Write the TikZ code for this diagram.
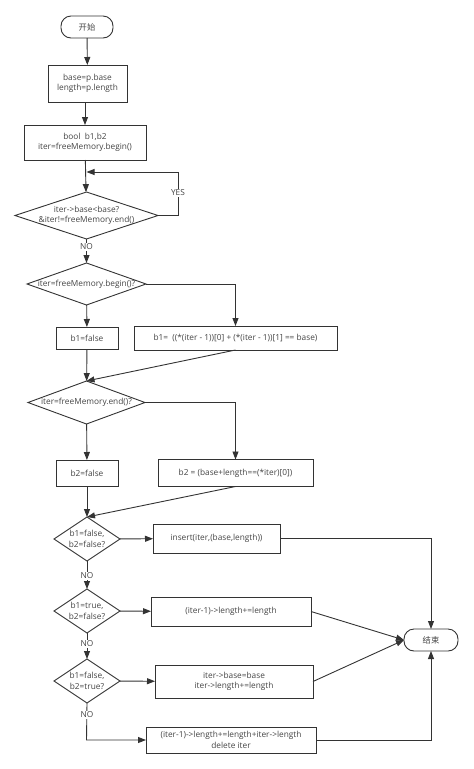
\documentclass[tikz,border=0pt]{standalone}
\usepackage{fontspec}
\setmainfont{Open Sans}
\newfontfamily\cjk{Noto Sans CJK SC}
\usetikzlibrary{arrows.meta,shapes.geometric}
\definecolor{ln}{HTML}{333333}
\definecolor{tx}{HTML}{444444}
\begin{document}
\begin{tikzpicture}[x=1pt,y=-1pt,
  every node/.style={font=\fontsize{8.3}{10.5}\selectfont, text=tx},
  box/.style={draw=ln, line width=0.9pt, rectangle, inner sep=0pt, outer sep=0pt, align=center},
  term/.style={draw=ln, line width=0.9pt, rectangle, rounded corners=10pt, inner sep=0pt, outer sep=0pt, minimum width=52pt, minimum height=22pt},
  dia/.style={draw=ln, line width=0.9pt, diamond, inner sep=0pt, outer sep=0pt},
  dtext/.style={align=center, inner sep=0pt},
  lab/.style={fill=white, inner sep=1pt},
  arr/.style={draw=ln, line width=0.9pt, -{Triangle[length=8pt,width=6pt]}},
  ln/.style={draw=ln, line width=0.9pt}]
\useasboundingbox (0,0) rectangle (474,769);
% nodes
\node[term] (start) at (87,27) {\cjk 开始};
\node[box, minimum width=79pt, minimum height=37pt] (init) at (87.5,83.5) {base=p.base\\length=p.length};
\node[box, minimum width=122pt, minimum height=35pt] (decl) at (85,142.5) {bool\ \ b1,b2\\iter=freeMemory.begin()};
\node[dia, minimum width=143pt, minimum height=47pt] (d1) at (86.5,215.5) {};
\node[dtext] (d1t) at (d1) {iter->base<base?\\\&iter!=freeMemory.end()};
\node[dia, minimum width=119pt, minimum height=42pt] (d2) at (86.5,284) {};
\node[dtext] (d2t) at (d2) {iter=freeMemory.begin()?};
\node[box, minimum width=62pt, minimum height=22pt] (b1f) at (87,338) {b1=false};
\node[box, minimum width=203pt, minimum height=24pt] (b1r) at (235.5,338) {b1=\ \ ((*(iter - 1))[0] + (*(iter - 1))[1] == base)};
\node[dia, minimum width=117pt, minimum height=43pt] (d3) at (86.5,402.5) {};
\node[dtext] (d3t) at (d3) {iter=freeMemory.end()?};
\node[box, minimum width=62pt, minimum height=26pt] (b2f) at (87,473) {b2=false};
\node[box, minimum width=155pt, minimum height=27pt] (b2r) at (235.5,473) {b2 = (base+length==(*iter)[0])};
\node[dia, minimum width=66pt, minimum height=44pt] (d4) at (87,539) {};
\node[dtext] (d4t) at (d4) {b1=false,\\b2=false?};
\node[box, minimum width=127pt, minimum height=29pt] (ins) at (216.5,538.5) {insert(iter,(base,length))};
\node[dia, minimum width=66pt, minimum height=44pt] (d5) at (87,611) {};
\node[dtext] (d5t) at (d5) {b1=true,\\b2=false?};
\node[box, minimum width=160pt, minimum height=29pt] (c5) at (231,611.5) {(iter-1)->length+=length};
\node[dia, minimum width=66pt, minimum height=44pt] (d6) at (87,681) {};
\node[dtext] (d6t) at (d6) {b1=false,\\b2=true?};
\node[box, minimum width=158pt, minimum height=33pt] (c6) at (234,681.5) {iter->base=base\\iter->length+=length};
\node[box, minimum width=170pt, minimum height=26pt] (c7) at (231,740) {(iter-1)->length+=length+iter->length\\delete iter};
\node[term, minimum width=54pt] (end) at (431,640) {\cjk 结束};
\coordinate (j1) at (86.5,172);
\coordinate (y1) at (178,172);
\coordinate (n6) at (86.5,740);
% connectors
\draw[arr] (start) -- (init);
\draw[arr] (init.south -| decl) -- (decl);
\draw[arr] (decl) -- (d1);
\draw[arr] (d1.east) -| (y1) -- (j1);
\node[lab] (yes) at (178,193) {YES};
\draw[arr] (d1) -- (d2);
\node[lab] (no1) at (86.5,247) {NO};
\draw[arr] (d2.east) -| (b1r.north);
\draw[arr] (d2) -- (b1f);
\draw[arr] (b1f) -- (d3);
\draw[arr] (b1r.south) -- (d3.north);
\draw[arr] (d3.east) -| (b2r.north);
\draw[arr] (d3) -- (b2f);
\draw[arr] (b2f) -- (d4);
\draw[arr] (b2r.south) -- (d4.north);
\draw[arr] (d4) -- (ins);
\draw[arr] (ins.east) -| (end.north);
\draw[arr] (d4) -- (d5);
\node[lab] (no2) at (87,576) {NO};
\draw[arr] (d5) -- (c5);
\draw[arr] (c5.east) -- (end.west);
\draw[arr] (d5) -- (d6);
\node[lab] (no3) at (87,644) {NO};
\draw[arr] (d6) -- (c6);
\draw[arr] (c6.east) -- (end.west);
\draw[arr] (d6.south) -- (n6) -- (c7.west);
\node[lab] (no4) at (87,715) {NO};
\draw[arr] (c7.east) -| (end.south);
\end{tikzpicture}
\end{document}
